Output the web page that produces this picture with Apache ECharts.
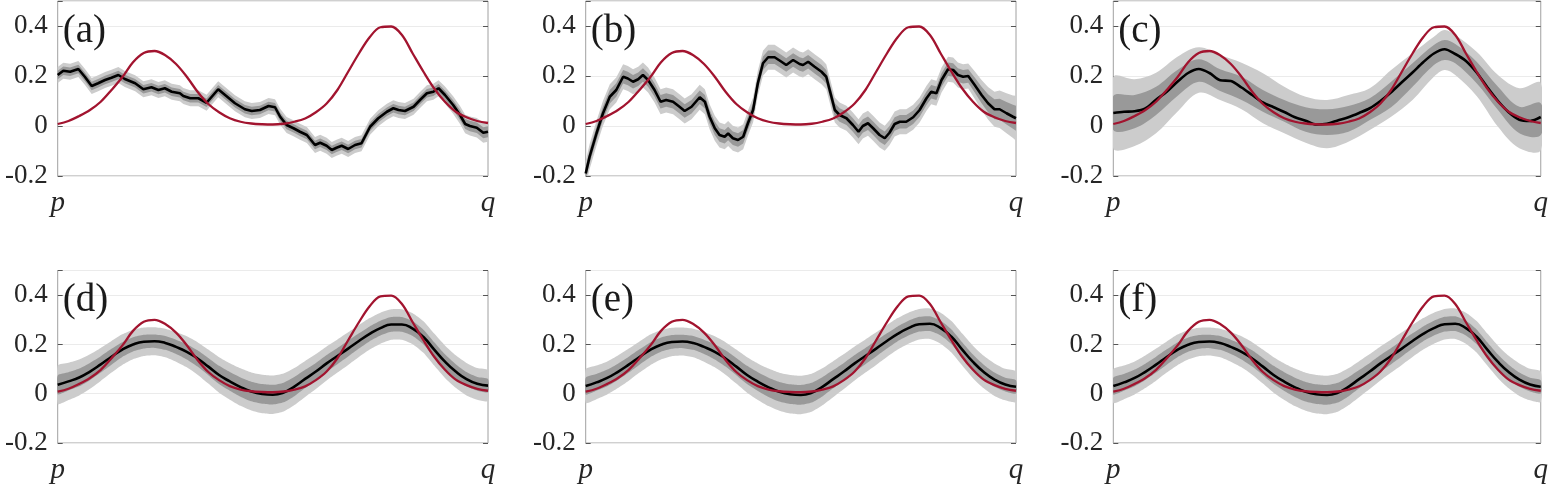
<!DOCTYPE html>
<html>
<head>
<meta charset="utf-8">
<script src="https://cdn.jsdelivr.net/npm/echarts@6/dist/echarts.min.js"></script>
<style>
html,body{margin:0;padding:0;background:#fff;}
#chart{width:1551px;height:485px;}
</style>
</head>
<body>
<div id="chart"></div>
<script>
// ---------------- data ----------------
const panelLabels = ['(a)', '(b)', '(c)', '(d)', '(e)', '(f)'];
const xTickLabels = ['p', 'q'];
const yTicks = [-0.2, 0, 0.2, 0.4];

// common x grid (fraction of the p..q segment)
const xs41 = [0,0.025,0.05,0.075,0.1,0.125,0.15,0.175,0.2,0.225,0.25,0.275,0.3,0.325,0.35,0.375,0.4,0.425,0.45,0.475,0.5,0.525,0.55,0.575,0.6,0.625,0.65,0.675,0.7,0.725,0.75,0.775,0.8,0.825,0.85,0.875,0.9,0.925,0.95,0.975,1];

// true curve (red), same in every panel
const truth = [0.008,0.020,0.040,0.064,0.097,0.144,0.195,0.255,0.292,0.300,0.283,0.248,0.197,0.137,0.088,0.055,0.031,0.017,0.010,0.007,0.006,0.009,0.017,0.030,0.055,0.090,0.144,0.217,0.290,0.355,0.395,0.398,0.364,0.290,0.217,0.150,0.097,0.057,0.035,0.020,0.012];

// (a)
const aX = [0,0.013,0.029,0.048,0.063,0.079,0.094,0.110,0.125,0.141,
  0.156,0.180,0.199,0.218,0.234,0.249,0.265,0.284,0.292,0.308,
  0.327,0.346,0.358,0.373,0.389,0.412,0.435,0.451,0.470,0.490,
  0.505,0.517,0.532,0.548,0.563,0.579,0.598,0.610,0.625,0.637,
  0.648,0.660,0.675,0.691,0.706,0.726,0.745,0.765,0.780,0.792,
  0.807,0.827,0.842,0.858,0.873,0.885,0.900,0.919,0.935,0.947,
  0.958,0.974,0.989,1.0];
const aMean = [0.204,0.221,0.217,0.228,0.197,0.160,0.171,0.184,0.193,0.204,
  0.188,0.171,0.147,0.155,0.144,0.151,0.137,0.131,0.120,0.111,
  0.111,0.093,0.117,0.147,0.124,0.091,0.067,0.060,0.064,0.080,
  0.075,0.037,0.004,-0.009,-0.023,-0.036,-0.076,-0.067,-0.079,-0.096,
  -0.087,-0.079,-0.092,-0.076,-0.069,-0.003,0.031,0.057,0.071,0.064,
  0.060,0.077,0.104,0.131,0.137,0.151,0.124,0.084,0.044,0.008,
  0.000,-0.007,-0.027,-0.023];
const aOuterHalf = [0.032,0.032,0.032,0.032,0.032,0.032,0.032,0.032,0.032,0.032,
  0.032,0.032,0.032,0.032,0.032,0.032,0.032,0.032,0.032,0.032,
  0.032,0.032,0.032,0.032,0.032,0.032,0.032,0.032,0.032,0.032,
  0.032,0.032,0.032,0.032,0.032,0.032,0.032,0.032,0.032,0.032,
  0.032,0.032,0.032,0.032,0.032,0.032,0.032,0.032,0.032,0.032,
  0.032,0.032,0.032,0.032,0.032,0.032,0.034,0.035,0.036,0.037,
  0.038,0.039,0.040,0.040];
const aInnerHalf = [0.017,0.017,0.017,0.017,0.017,0.017,0.017,0.017,0.017,0.017,
  0.017,0.017,0.017,0.017,0.017,0.017,0.017,0.017,0.017,0.017,
  0.017,0.017,0.017,0.017,0.017,0.017,0.017,0.017,0.017,0.017,
  0.017,0.017,0.017,0.017,0.017,0.017,0.017,0.017,0.017,0.017,
  0.017,0.017,0.017,0.017,0.017,0.017,0.017,0.017,0.017,0.017,
  0.017,0.017,0.017,0.017,0.017,0.017,0.018,0.019,0.020,0.020,
  0.021,0.021,0.022,0.022];

// (b)
const bX = [0,0.009,0.025,0.040,0.056,0.071,0.087,0.098,0.110,0.122,
  0.133,0.145,0.160,0.174,0.187,0.203,0.218,0.230,0.246,0.265,
  0.277,0.288,0.300,0.311,0.323,0.331,0.342,0.354,0.366,0.377,
  0.389,0.400,0.412,0.424,0.439,0.455,0.466,0.482,0.497,0.505,
  0.517,0.532,0.548,0.559,0.567,0.579,0.590,0.606,0.621,0.634,
  0.644,0.656,0.668,0.683,0.695,0.706,0.718,0.730,0.745,0.761,
  0.776,0.792,0.803,0.815,0.827,0.842,0.854,0.865,0.877,0.889,
  0.904,0.920,0.935,0.950,0.962,0.978,0.993,1.0];
const bMean = [-0.190,-0.123,-0.030,0.050,0.117,0.144,0.197,0.190,0.177,0.187,
  0.204,0.184,0.144,0.097,0.104,0.097,0.077,0.060,0.077,0.115,
  0.097,0.037,-0.009,-0.036,-0.043,-0.030,-0.049,-0.056,-0.043,0.011,
  0.064,0.171,0.251,0.275,0.275,0.257,0.244,0.264,0.248,0.244,
  0.257,0.237,0.217,0.197,0.144,0.064,0.044,0.031,0.004,-0.023,
  0.000,0.011,-0.009,-0.036,-0.049,-0.027,0.008,0.017,0.017,0.035,
  0.064,0.111,0.137,0.131,0.184,0.227,0.224,0.204,0.197,0.200,
  0.164,0.124,0.091,0.067,0.067,0.051,0.037,0.031];
const bOuterHalf = [0.050,0.050,0.050,0.050,0.050,0.050,0.050,0.050,0.050,0.050,
  0.050,0.050,0.050,0.050,0.050,0.050,0.050,0.050,0.050,0.050,
  0.050,0.050,0.050,0.050,0.050,0.050,0.050,0.050,0.050,0.050,
  0.050,0.050,0.050,0.050,0.050,0.050,0.050,0.050,0.050,0.050,
  0.050,0.050,0.050,0.050,0.050,0.050,0.050,0.050,0.050,0.050,
  0.050,0.050,0.050,0.050,0.050,0.050,0.050,0.050,0.050,0.050,
  0.050,0.050,0.050,0.050,0.050,0.050,0.050,0.050,0.050,0.050,
  0.055,0.060,0.065,0.070,0.075,0.080,0.085,0.090];
const bInnerHalf = [0.027,0.027,0.027,0.027,0.027,0.027,0.027,0.027,0.027,0.027,
  0.027,0.027,0.027,0.027,0.027,0.027,0.027,0.027,0.027,0.027,
  0.027,0.027,0.027,0.027,0.027,0.027,0.027,0.027,0.027,0.027,
  0.027,0.027,0.027,0.027,0.027,0.027,0.027,0.027,0.027,0.027,
  0.027,0.027,0.027,0.027,0.027,0.027,0.027,0.027,0.027,0.027,
  0.027,0.027,0.027,0.027,0.027,0.027,0.027,0.027,0.027,0.027,
  0.027,0.027,0.027,0.027,0.027,0.027,0.027,0.027,0.027,0.027,
  0.030,0.033,0.036,0.040,0.042,0.045,0.048,0.050];

// (c)
const cMean = [0.052,0.057,0.059,0.070,0.105,0.137,0.177,0.212,0.228,0.212,0.183,0.180,0.154,0.124,0.094,0.075,0.056,0.035,0.021,0.006,0.009,0.022,0.035,0.052,0.071,0.100,0.135,0.175,0.214,0.255,0.290,0.307,0.288,0.260,0.214,0.155,0.100,0.055,0.025,0.020,0.036];
const cBandX   = [0,0.05,0.1,0.15,0.2,0.25,0.3,0.35,0.4,0.45,0.5,0.55,0.6,0.65,0.7,0.75,0.775,0.8,0.85,0.9,0.95,1];
const cOuterHi = [0.195,0.187,0.213,0.277,0.315,0.284,0.253,0.211,0.157,0.117,0.104,0.124,0.151,0.224,0.291,0.357,0.384,0.364,0.297,0.204,0.151,0.171];
const cInnerHi = [0.120,0.124,0.157,0.224,0.267,0.227,0.197,0.144,0.104,0.075,0.067,0.080,0.111,0.177,0.251,0.324,0.344,0.328,0.257,0.157,0.077,0.091];
const cInnerLo = [-0.016,-0.009,0.044,0.120,0.177,0.140,0.104,0.057,0.017,-0.023,-0.036,-0.023,0.024,0.075,0.157,0.244,0.264,0.251,0.171,0.064,-0.029,-0.036];
const cOuterLo = [-0.089,-0.080,-0.029,0.057,0.133,0.104,0.067,0.011,-0.029,-0.067,-0.089,-0.063,-0.016,0.037,0.104,0.197,0.224,0.204,0.120,-0.003,-0.089,-0.096];

// (d)
const dMean = [0.036,0.050,0.066,0.090,0.119,0.150,0.179,0.200,0.211,0.213,0.206,0.190,0.170,0.143,0.110,0.076,0.050,0.027,0.009,-0.001,-0.004,0.005,0.029,0.060,0.090,0.123,0.153,0.183,0.214,0.243,0.266,0.281,0.281,0.264,0.230,0.179,0.130,0.090,0.059,0.040,0.033];
const dOuterHalf = [0.078,0.076,0.073,0.070,0.067,0.064,0.062,0.060,0.058,0.057,0.058,0.060,0.063,0.066,0.069,0.072,0.074,0.076,0.077,0.078,0.078,0.077,0.075,0.073,0.071,0.069,0.067,0.066,0.065,0.064,0.063,0.062,0.062,0.063,0.064,0.065,0.066,0.066,0.066,0.064,0.062];
const dInnerHalf = [0.038,0.037,0.036,0.035,0.033,0.032,0.030,0.029,0.028,0.027,0.028,0.029,0.031,0.033,0.035,0.037,0.038,0.039,0.040,0.040,0.040,0.040,0.039,0.037,0.035,0.034,0.033,0.032,0.031,0.030,0.030,0.030,0.030,0.030,0.030,0.030,0.030,0.030,0.029,0.028,0.027];

// (e)
const eMean = [0.031,0.046,0.064,0.089,0.118,0.149,0.178,0.199,0.210,0.212,0.206,0.190,0.170,0.143,0.110,0.076,0.049,0.026,0.008,-0.002,-0.005,0.004,0.028,0.059,0.090,0.123,0.153,0.183,0.214,0.243,0.266,0.282,0.284,0.266,0.231,0.179,0.129,0.088,0.057,0.037,0.028];
const eOuterHalf = [0.068,0.068,0.067,0.066,0.065,0.063,0.062,0.060,0.058,0.057,0.058,0.060,0.063,0.066,0.069,0.072,0.074,0.076,0.077,0.078,0.078,0.077,0.075,0.073,0.071,0.069,0.067,0.066,0.065,0.064,0.063,0.062,0.062,0.063,0.064,0.065,0.066,0.066,0.066,0.064,0.062];
const eInnerHalf = [0.034,0.034,0.034,0.033,0.032,0.031,0.030,0.029,0.028,0.027,0.028,0.029,0.031,0.033,0.035,0.037,0.038,0.039,0.040,0.040,0.040,0.040,0.039,0.037,0.035,0.034,0.033,0.032,0.031,0.030,0.030,0.030,0.030,0.030,0.030,0.030,0.030,0.030,0.029,0.028,0.027];

// (f)
const fMean = [0.031,0.046,0.064,0.089,0.118,0.149,0.178,0.199,0.210,0.212,0.206,0.190,0.170,0.143,0.110,0.076,0.049,0.026,0.008,-0.002,-0.005,0.004,0.028,0.059,0.090,0.123,0.153,0.183,0.214,0.243,0.266,0.282,0.284,0.266,0.231,0.179,0.129,0.088,0.057,0.037,0.028];
const fOuterHalf = [0.068,0.068,0.067,0.066,0.065,0.063,0.062,0.060,0.058,0.057,0.058,0.060,0.063,0.066,0.069,0.072,0.074,0.076,0.077,0.078,0.078,0.077,0.075,0.073,0.071,0.069,0.067,0.066,0.065,0.064,0.063,0.062,0.062,0.063,0.064,0.065,0.066,0.066,0.066,0.064,0.062];
const fInnerHalf = [0.034,0.034,0.034,0.033,0.032,0.031,0.030,0.029,0.028,0.027,0.028,0.029,0.031,0.033,0.035,0.037,0.038,0.039,0.040,0.040,0.040,0.040,0.039,0.037,0.035,0.034,0.033,0.032,0.031,0.030,0.030,0.030,0.030,0.030,0.030,0.030,0.030,0.030,0.029,0.028,0.027];

// ---------------- build ----------------
const LIGHT = '#cccccc', DARK = '#999999', RED = '#a2142f';
const colLeft = [57.7, 585.7, 1113.3];
const rowTop = [1, 270.5];
const plotW = 430.3, plotH = 175;
const labelFont = 'Liberation Serif';

function sym(mean, half, sign) { return mean.map((m, i) => m + sign * half[i]); }

const panels = [
  {x: aX, mean: aMean, bx: aX, oLo: sym(aMean, aOuterHalf, -1), iLo: sym(aMean, aInnerHalf, -1), iHi: sym(aMean, aInnerHalf, 1), oHi: sym(aMean, aOuterHalf, 1), smoothMean: false, smoothBand: 0},
  {x: bX, mean: bMean, bx: bX, oLo: sym(bMean, bOuterHalf, -1), iLo: sym(bMean, bInnerHalf, -1), iHi: sym(bMean, bInnerHalf, 1), oHi: sym(bMean, bOuterHalf, 1), smoothMean: false, smoothBand: 0},
  {x: xs41, mean: cMean, bx: cBandX, oLo: cOuterLo, iLo: cInnerLo, iHi: cInnerHi, oHi: cOuterHi, smoothMean: 0.3, smoothBand: 0.35},
  {x: xs41, mean: dMean, bx: xs41, oLo: sym(dMean, dOuterHalf, -1), iLo: sym(dMean, dInnerHalf, -1), iHi: sym(dMean, dInnerHalf, 1), oHi: sym(dMean, dOuterHalf, 1), smoothMean: true, smoothBand: 0.2},
  {x: xs41, mean: eMean, bx: xs41, oLo: sym(eMean, eOuterHalf, -1), iLo: sym(eMean, eInnerHalf, -1), iHi: sym(eMean, eInnerHalf, 1), oHi: sym(eMean, eOuterHalf, 1), smoothMean: true, smoothBand: 0.2},
  {x: xs41, mean: fMean, bx: xs41, oLo: sym(fMean, fOuterHalf, -1), iLo: sym(fMean, fInnerHalf, -1), iHi: sym(fMean, fInnerHalf, 1), oHi: sym(fMean, fOuterHalf, 1), smoothMean: true, smoothBand: 0.2}
];

function bandSeries(i, bx, lo, hi, color, smooth, z) {
  return {
    type: 'custom', xAxisIndex: i, yAxisIndex: 2 * i, silent: true, clip: true, z: z,
    data: bx.map((x, k) => [x, lo[k], hi[k]]),
    encode: {x: 0, y: [1, 2]},
    renderItem: function (params, api) {
      if (params.dataIndex !== 0) return null;
      const pts = [];
      for (let k = 0; k < bx.length; k++) pts.push(api.coord([bx[k], hi[k]]));
      for (let k = bx.length - 1; k >= 0; k--) pts.push(api.coord([bx[k], lo[k]]));
      return {type: 'polygon', shape: {points: pts, smooth: smooth}, style: {fill: color, stroke: null}};
    }
  };
}

const grids = [], xAxes = [], yAxes = [], series = [], titles = [];

panels.forEach((p, i) => {
  const r = Math.floor(i / 3), c = i % 3;
  grids.push({left: colLeft[c], top: rowTop[r], width: plotW, height: plotH, show: true,
    borderColor: '#a0a0a0', borderWidth: 1, backgroundColor: 'transparent', containLabel: false});
  xAxes.push({gridIndex: i, type: 'value', min: 0, max: 1, interval: 1,
    axisLine: {show: false}, axisTick: {show: false}, splitLine: {show: false},
    axisLabel: {show: true, showMinLabel: true, showMaxLabel: true, margin: 13,
      formatter: v => (v === 0 ? xTickLabels[0] : (v === 1 ? xTickLabels[1] : '')),
      fontFamily: labelFont, fontStyle: 'italic', fontSize: 29, color: '#262626'}});
  const yBase = {gridIndex: i, type: 'value', min: -0.2, max: 0.5, interval: 0.2};
  yAxes.push(Object.assign({}, yBase, {position: 'left',
    axisLine: {show: false},
    axisTick: {show: true, inside: true, length: 5, lineStyle: {color: '#555555', width: 1}},
    splitLine: {show: true, lineStyle: {color: '#ebebeb', width: 1}},
    axisLabel: {show: true, margin: 10, fontFamily: labelFont, fontSize: 27, color: '#262626',
      formatter: v => (yTicks.some(t => Math.abs(t - v) < 1e-6) ? String(Math.round(v * 10) / 10) : '')}}));
  yAxes.push(Object.assign({}, yBase, {position: 'right',
    axisLine: {show: false}, axisLabel: {show: false}, splitLine: {show: false},
    axisTick: {show: true, inside: true, length: 5, lineStyle: {color: '#555555', width: 1}}}));

  series.push(bandSeries(i, p.bx, p.oLo, p.oHi, LIGHT, p.smoothBand, 1));
  series.push(bandSeries(i, p.bx, p.iLo, p.iHi, DARK, p.smoothBand, 2));
  series.push({type: 'line', xAxisIndex: i, yAxisIndex: 2 * i, data: p.x.map((x, k) => [x, p.mean[k]]),
    symbol: 'none', showSymbol: false, silent: true, smooth: p.smoothMean, animation: false,
    lineStyle: {color: '#000000', width: 2.6}, z: 3});
  series.push({type: 'line', xAxisIndex: i, yAxisIndex: 2 * i, data: xs41.map((x, k) => [x, truth[k]]),
    symbol: 'none', showSymbol: false, silent: true, smooth: 0.35, animation: false,
    lineStyle: {color: RED, width: 2.3}, z: 4});

  titles.push({text: panelLabels[i], left: colLeft[c] + 5, top: rowTop[r] + 11, padding: 0,
    textStyle: {fontFamily: labelFont, fontWeight: 'normal', fontSize: 39, color: '#1a1a1a'}});
});

const chart = echarts.init(document.getElementById('chart'), null, {renderer: 'canvas'});
chart.setOption({
  animation: false,
  backgroundColor: '#ffffff',
  title: titles,
  grid: grids,
  xAxis: xAxes,
  yAxis: yAxes,
  series: series
});
</script>
</body>
</html>
